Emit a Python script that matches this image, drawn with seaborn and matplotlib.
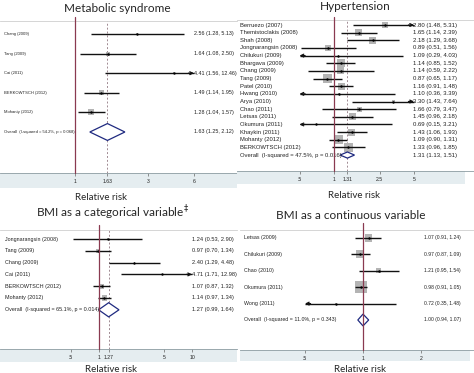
import numpy as np
import pandas as pd
import matplotlib
matplotlib.use("Agg")
import matplotlib.pyplot as plt
import matplotlib.transforms as mtransforms
from matplotlib.patches import Rectangle
from matplotlib.ticker import NullLocator
import seaborn as sns

# ---------------- data ----------------
# Metabolic syndrome
ms_study = ["Chang (2009)", "Tang (2009)", "Cai (2011)", "BERKOWTSCH (2012)", "Mohanty (2012)"]
ms_rr = [2.56, 1.64, 4.41, 1.49, 1.28]
ms_lo = [1.28, 1.08, 1.56, 1.14, 1.04]
ms_hi = [5.13, 2.50, 12.46, 1.95, 1.57]
ms_wt = [4.8, 19.3, 2.4, 30.1, 43.4]
ms_overall = [1.63, 1.25, 2.12]
ms_het = "I-squared = 54.2%, p = 0.068"
ms_ticks = [1, 1.63, 3, 6]
ms_ticklabels = ["1", "1.63", "3", "6"]

# Hypertension
ht_study = ["Berruezo (2007)", "Themistoclakis (2008)", "Shah (2008)", "Jongnarangsin (2008)",
            "Chilukuri (2009)", "Bhargava (2009)", "Chang (2009)", "Tang (2009)", "Patel (2010)",
            "Hwang (2010)", "Arya (2010)", "Chao (2011)", "Letsas (2011)", "Okumura (2011)",
            "Khaykin (2011)", "Mohanty (2012)", "BERKOWTSCH (2012)"]
ht_rr = [2.80, 1.65, 2.18, 0.89, 1.09, 1.14, 1.14, 0.87, 1.16, 1.10, 3.30, 1.66, 1.45, 0.69, 1.43, 1.09, 1.33]
ht_lo = [1.48, 1.14, 1.29, 0.51, 0.29, 0.85, 0.59, 0.65, 0.91, 0.36, 1.43, 0.79, 0.96, 0.15, 1.06, 0.90, 0.96]
ht_hi = [5.31, 2.39, 3.68, 1.56, 4.03, 1.52, 2.22, 1.17, 1.48, 3.39, 7.64, 3.47, 2.18, 3.21, 1.93, 1.31, 1.85]
ht_wt = [5.0, 6.9, 6.9, 5.0, 0.1, 9.0, 6.9, 11.4, 6.9, 0.6, 1.3, 3.5, 6.9, 0.1, 6.9, 11.4, 11.4]
ht_overall = [1.31, 1.13, 1.51]
ht_het = "I-squared = 47.5%, p = 0.016"
ht_ticks = [0.5, 1, 1.31, 2.5, 5]
ht_ticklabels = [".5", "1", "1.31", "2.5", "5"]

# BMI as a categorical variable
bc_study = ["Jongnarangsin (2008)", "Tang (2009)", "Chang (2009)", "Cai (2011)",
            "BERKOWTSCH (2012)", "Mohanty (2012)"]
bc_rr = [1.24, 0.97, 2.40, 4.71, 1.07, 1.14]
bc_lo = [0.53, 0.70, 1.29, 1.71, 0.87, 0.97]
bc_hi = [2.90, 1.34, 4.48, 12.98, 1.32, 1.34]
bc_wt = [2.9, 20.9, 2.9, 1.3, 32.7, 39.2]
bc_overall = [1.27, 0.99, 1.64]
bc_het = "I-squared = 65.1%, p = 0.014"
bc_ticks = [0.5, 1, 1.27, 5, 10]
bc_ticklabels = [".5", "1", "1.27", "5", "10"]

# BMI as a continuous variable
bn_study = ["Letsas (2009)", "Chilukuri (2009)", "Chao (2010)", "Okumura (2011)", "Wong (2011)"]
bn_rr = [1.07, 0.97, 1.21, 0.98, 0.72]
bn_lo = [0.91, 0.87, 0.95, 0.91, 0.35]
bn_hi = [1.24, 1.09, 1.54, 1.05, 1.48]
bn_wt = [17.3, 22.5, 8.8, 50.7, 0.8]
bn_overall = [1.00, 0.94, 1.07]
bn_het = "I-squared = 11.0%, p = 0.343"
bn_ticks = [0.5, 1, 2]
bn_ticklabels = [".5", "1", "2"]

# ---------------- style ----------------
sns.set_style("white")
plt.rcParams["font.family"] = ["Liberation Sans", "DejaVu Sans"]
TITLE_FONT = ["Lato", "DejaVu Sans"]

W, H = 474, 373
NULL_COL = "#8a3a50"
DASH_COL = "#a08a92"
DIAM_COL = "#1f2a80"
SQ_COL = "#b4b4b4"
BAND_COL = "#e5edf0"
LINE_COL = "#111111"

fig = plt.figure(figsize=(W / 100, H / 100), dpi=100)
fig.patch.set_facecolor("white")


def forest(box, one_x, ppu, row0, step, study, rr, lo, hi, wt, overall, het,
           ticks, ticklabels, lim, band, lab_x, est_x, fs_lab, fs_est, sq_c, dia_h, null_ext):
    x0, y0, x1, y1 = box
    ax = fig.add_axes([x0 / W, 1 - y1 / H, (x1 - x0) / W, (y1 - y0) / H])
    ax.set_facecolor("none")
    ax.set_xscale("log")
    n = len(study)

    df = pd.DataFrame({"study": study, "rr": rr, "lo": lo, "hi": hi, "wt": wt,
                       "row": np.arange(n, dtype=float)})
    df["a"] = df["lo"].clip(lower=lim[0])
    df["b"] = df["hi"].clip(upper=lim[1])

    # weight squares
    smax = 100 * (0.72 * sq_c) ** 2
    sns.scatterplot(data=df, x="rr", y="row", size="wt", sizes=(0, smax), size_norm=(0, 100),
                    marker="s", color=SQ_COL, linewidth=0, legend=False, ax=ax, zorder=2)
    # confidence intervals
    ax.hlines(df["row"], df["a"], df["b"], color=LINE_COL, lw=1.0, zorder=4)
    # arrow heads where the interval leaves the axis range
    for r in df.itertuples():
        if r.hi > lim[1]:
            ax.annotate("", xy=(r.b, r.row), xytext=(-4, 0), textcoords="offset points",
                        annotation_clip=False, zorder=4,
                        arrowprops=dict(arrowstyle="->", lw=0.9, color=LINE_COL,
                                        shrinkA=0, shrinkB=0, mutation_scale=5))
        if r.lo < lim[0]:
            ax.annotate("", xy=(r.a, r.row), xytext=(4, 0), textcoords="offset points",
                        annotation_clip=False, zorder=4,
                        arrowprops=dict(arrowstyle="->", lw=0.9, color=LINE_COL,
                                        shrinkA=0, shrinkB=0, mutation_scale=5))
    sns.scatterplot(data=df, x="rr", y="row", color="black", s=3, linewidth=0,
                    legend=False, ax=ax, zorder=5)

    # overall diamond
    o, olo, ohi = overall
    ax.fill([olo, o, ohi, o], [n, n - dia_h, n, n + dia_h], facecolor="white",
            edgecolor=DIAM_COL, lw=0.9, zorder=3)

    ax.set_xlim(np.exp((x0 - one_x) / ppu), np.exp((x1 - one_x) / ppu))
    ax.set_ylim(n + (y1 - (row0 + n * step)) / step, -(row0 - y0) / step)

    ax.axvline(o, ymin=0, ymax=1, color=DASH_COL, lw=0.7, ls=(0, (2, 2)), zorder=1)
    ax.axvline(1, ymin=0, ymax=1 + null_ext / (y1 - y0), color=NULL_COL, lw=0.9,
               clip_on=False, zorder=6)

    trans = mtransforms.blended_transform_factory(ax.transAxes, ax.transData)
    labels = list(study) + [f"Overall  ({het})"]
    ests = [f"{a:.2f} ({b:.2f}, {c:.2f})" for a, b, c in zip(rr, lo, hi)]
    ests.append(f"{o:.2f} ({olo:.2f}, {ohi:.2f})")
    for i, (lab, est) in enumerate(zip(labels, ests)):
        ax.text(lab_x, i, lab, transform=trans, fontsize=fs_lab, va="center", ha="left",
                color="#222222")
        ax.text(est_x, i, est, transform=trans, fontsize=fs_est, va="center", ha="left",
                color="#222222")

    ax.set_xticks(ticks, labels=ticklabels)
    ax.xaxis.set_minor_locator(NullLocator())
    ax.set_yticks([])
    ax.tick_params(axis="x", length=2, width=0.5, color="#666666", labelsize=3.7, pad=2,
                   labelcolor="#222222", bottom=True)
    for s in ["left", "right"]:
        ax.spines[s].set_visible(False)
    ax.spines["top"].set_color("#cfcfcf")
    ax.spines["top"].set_linewidth(0.6)
    ax.spines["bottom"].set_color("#8d9ca2")
    ax.spines["bottom"].set_linewidth(0.6)
    ax.set_xlabel("")
    ax.set_ylabel("")

    bx0, bx1, bh = band
    ax.add_patch(Rectangle(((bx0 - x0) / (x1 - x0), -bh / (y1 - y0)), (bx1 - bx0) / (x1 - x0),
                           bh / (y1 - y0), transform=ax.transAxes, facecolor=BAND_COL,
                           edgecolor="none", clip_on=False, zorder=0))
    return ax


forest((0, 21, 237, 173), 75, 66.4, 34, 19.6, ms_study, ms_rr, ms_lo, ms_hi, ms_wt,
       ms_overall, ms_het, ms_ticks, ms_ticklabels, (1, 6), (0, 237, 15),
       4 / 237, 194 / 237, 3.0, 3.9, 0.91, 0.43, 4)
forest((237, 20, 474, 171), 334, 49.7, 25, 7.65, ht_study, ht_rr, ht_lo, ht_hi, ht_wt,
       ht_overall, ht_het, ht_ticks, ht_ticklabels, (0.5, 5), (237, 465, 13),
       3 / 237, 176 / 237, 4.2, 4.3, 2.67, 0.4, 3)
forest((0, 230, 237, 349), 99, 40.4, 239, 11.8, bc_study, bc_rr, bc_lo, bc_hi, bc_wt,
       bc_overall, bc_het, bc_ticks, bc_ticklabels, (0.5, 10), (0, 237, 13),
       5 / 237, 192 / 237, 3.9, 4.1, 0.88, 0.6, 5)
forest((240, 230, 474, 350), 363, 83.7, 238, 16.4, bn_study, bn_rr, bn_lo, bn_hi, bn_wt,
       bn_overall, bn_het, bn_ticks, bn_ticklabels, (0.5, 2), (240, 470, 11),
       4 / 234, 184 / 234, 3.8, 3.6, 1.69, 0.36, 7)

# titles and axis labels
titles = [("Metabolic syndrome", 117, 8), ("Hypertension", 355, 6),
          (r"BMI as a categorical variable$^{\ddag}$", 113, 213),
          ("BMI as a continuous variable", 351, 215)]
for t, cx, cy in titles:
    fig.text(cx / W, 1 - cy / H, t, ha="center", va="center", fontsize=8.5, family=TITLE_FONT)
for cx, cy in [(101, 197), (354, 195), (111, 369), (360, 369)]:
    fig.text(cx / W, 1 - cy / H, "Relative risk", ha="center", va="center", fontsize=7,
             family=TITLE_FONT)

fig.savefig("out.png", dpi=100)
